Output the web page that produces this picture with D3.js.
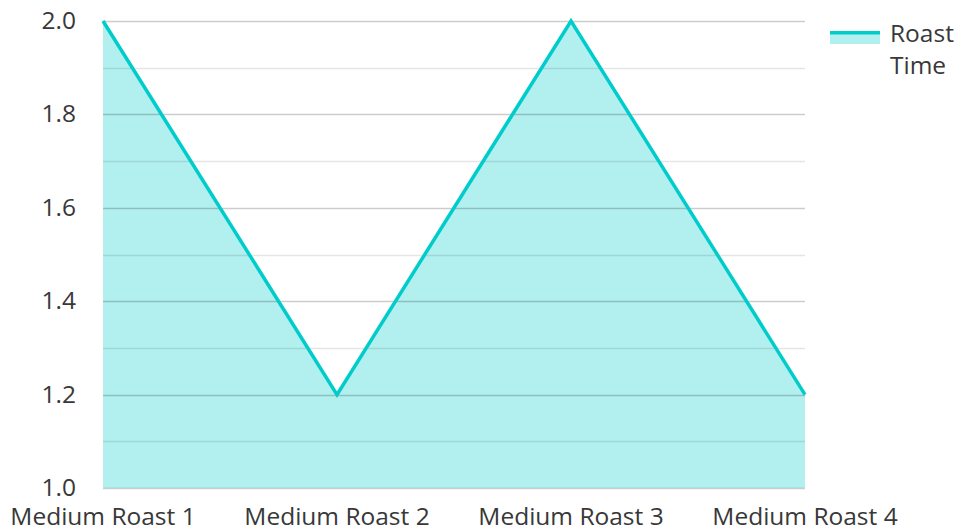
<!DOCTYPE html>
<html lang="en">
<head>
    <meta charset="UTF-8">
    <title>Roast Time</title>
    <style>
        body {
            margin: 0;
            background: #ffffff;
        }
        text {
            font-family: "Open Sans", sans-serif;
            fill: #383838;
        }
    </style>
</head>
<body>
    <div class="vis"><svg width="959" height="529"></svg></div>
    <script src="https://cdnjs.cloudflare.com/ajax/libs/d3/7.8.5/d3.min.js"></script>
    <script>
        var categories = ['Medium Roast 1', 'Medium Roast 2', 'Medium Roast 3', 'Medium Roast 4'];
        var roastTime = [2.0, 1.2, 2.0, 1.2];
        var majorTicks = [1.0, 1.2, 1.4, 1.6, 1.8, 2.0];
        var minorTicks = [1.1, 1.3, 1.5, 1.7, 1.9];
        var seriesName = ['Roast', 'Time'];

        var lineColor = '#00cccc';
        var fillColor = '#b2efef';

        var svg = d3.select('.vis svg');
        var plotLeft = 103, plotRight = 805, plotTop = 21, plotBottom = 488;

        var xScale = d3.scalePoint()
            .domain(categories)
            .range([plotLeft, plotRight]);

        var yScale = d3.scaleLinear()
            .domain([1.0, 2.0])
            .range([plotBottom, plotTop]);

        var data = categories.map((c, i) => ({ cat: c, v: roastTime[i] }));

        // area fill
        var area = d3.area()
            .x(d => xScale(d.cat))
            .y0(yScale(1.0))
            .y1(d => yScale(d.v));

        svg.append('path')
            .datum(data)
            .attr('d', area)
            .attr('fill', fillColor);

        // grid lines sit on top of the fill
        svg.selectAll('line.minor')
            .data(minorTicks)
            .enter()
            .append('line')
            .attr('class', 'minor')
            .attr('x1', plotLeft)
            .attr('x2', plotRight)
            .attr('y1', d => Math.round(yScale(d)) + 0.5)
            .attr('y2', d => Math.round(yScale(d)) + 0.5)
            .attr('stroke', 'rgba(0,0,0,0.1)')
            .attr('stroke-width', 1.5);

        svg.selectAll('line.major')
            .data(majorTicks)
            .enter()
            .append('line')
            .attr('class', 'major')
            .attr('x1', plotLeft)
            .attr('x2', plotRight)
            .attr('y1', d => Math.round(yScale(d)) + 0.5)
            .attr('y2', d => Math.round(yScale(d)) + 0.5)
            .attr('stroke', 'rgba(0,0,0,0.2)')
            .attr('stroke-width', 1.5);

        // line
        var line = d3.line()
            .x(d => xScale(d.cat))
            .y(d => yScale(d.v));

        svg.append('path')
            .datum(data)
            .attr('d', line)
            .attr('fill', 'none')
            .attr('stroke', lineColor)
            .attr('stroke-width', 3.5);

        // y axis labels
        svg.selectAll('text.ytick')
            .data(majorTicks)
            .enter()
            .append('text')
            .attr('class', 'ytick')
            .attr('x', 76)
            .attr('y', d => yScale(d) + 8)
            .attr('text-anchor', 'end')
            .attr('font-size', 24.5)
            .text(d => d.toFixed(1));

        // x axis labels
        svg.selectAll('text.xtick')
            .data(categories)
            .enter()
            .append('text')
            .attr('class', 'xtick')
            .attr('x', d => xScale(d))
            .attr('y', 525)
            .attr('text-anchor', 'middle')
            .attr('font-size', 24.5)
            .text(d => d);

        // legend
        var legend = svg.append('g').attr('transform', 'translate(830, 31)');
        legend.append('rect')
            .attr('x', 0)
            .attr('y', 0)
            .attr('width', 50)
            .attr('height', 13)
            .attr('fill', fillColor);
        legend.append('rect')
            .attr('x', 0)
            .attr('y', 0)
            .attr('width', 50)
            .attr('height', 3.5)
            .attr('fill', lineColor);
        legend.selectAll('text')
            .data(seriesName)
            .enter()
            .append('text')
            .attr('x', 60)
            .attr('y', (d, i) => 10.5 + i * 32)
            .attr('font-size', 24.5)
            .text(d => d);
    </script>
</body>
</html>
